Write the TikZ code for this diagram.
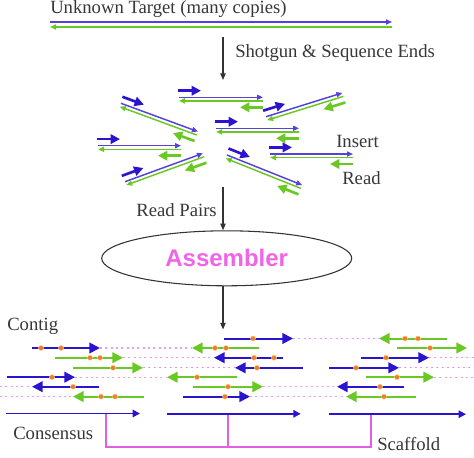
\documentclass[tikz,border=0pt]{standalone}
\usepackage{fontspec}
\setmainfont{Liberation Serif}
\newfontfamily\asmfont{Liberation Sans}
\usetikzlibrary{arrows.meta,shapes.geometric}
\definecolor{cblue}{RGB}{42,20,205}
\definecolor{iblue}{RGB}{85,65,220}
\definecolor{cgreen}{RGB}{105,200,35}
\definecolor{dotor}{RGB}{240,120,60}
\definecolor{dotrim}{RGB}{250,220,90}
\definecolor{pinkd}{RGB}{240,150,240}
\definecolor{scafc}{RGB}{225,95,225}
\definecolor{asmc}{RGB}{240,100,230}
\definecolor{txtc}{RGB}{55,55,55}
\newcommand\rpair[4]{%
\begin{scope}[shift={(#1,#2)},rotate=#3]
\draw[readb] (-1,-6.6) -- (22,-6.6);
\draw[insb] (0,0) -- (#4,0);
\draw[insg] (#4,3.6) -- (0,3.6);
\draw[readg] (#4,10) -- ({#4-23},10);
\end{scope}}
\newcommand\spot[2]{\fill[dotor,draw=dotrim,line width=0.3pt] (#1,#2) circle (1.9pt);}
\begin{document}
\begin{tikzpicture}[x=0.75pt,y=-0.75pt,
  lbl/.style={font=\fontsize{14}{16}\selectfont, text=txtc, inner sep=0},
  insb/.style={draw=iblue, line width=1.1pt, -{Triangle[length=4.5pt,width=3.8pt]}},
  insg/.style={draw=cgreen, line width=1.1pt, -{Triangle[length=4.5pt,width=3.8pt]}},
  readb/.style={draw=cblue, line width=2pt, -{Triangle[length=7pt,width=7pt]}},
  readg/.style={draw=cgreen, line width=2pt, -{Triangle[length=7pt,width=7pt]}},
  ctb/.style={draw=cblue, line width=1.5pt, -{Triangle[length=8pt,width=8pt]}},
  ctg/.style={draw=cgreen, line width=1.5pt, -{Triangle[length=8pt,width=8pt]}},
  consb/.style={draw=cblue, line width=1.4pt, -{Triangle[length=5.5pt,width=5.5pt]}},
  mate/.style={draw=pinkd, line width=1pt, dash pattern=on 1.5pt off 2.5pt},
  scf/.style={draw=scafc, line width=1.2pt},
  flow/.style={draw=black!80, line width=0.9pt, -{Triangle[length=5pt,width=4pt]}}]
\useasboundingbox (0,0) rectangle (474,457);

% target
\node[lbl, anchor=west] (target) at (50,9) {Unknown Target (many copies)};
\coordinate (tb1) at (50,22); \coordinate (tb2) at (392,22);
\coordinate (tg1) at (392,27); \coordinate (tg2) at (50,27);
\draw[insb, line width=1.4pt] (tb1) -- (tb2);
\draw[insg, line width=1.4pt] (tg1) -- (tg2);

% shotgun arrow
\coordinate (s1) at (223,37); \coordinate (s2) at (223,80);
\draw[flow] (s1) -- (s2);
\node[lbl, anchor=west] (shot) at (235,53) {Shotgun \& Sequence Ends};

% read pairs
\rpair{179}{97.3}{0}{84}
\rpair{266}{116.7}{17.3}{80}
\rpair{121}{103.3}{-20.2}{82}
\rpair{98}{145.7}{0}{83}
\rpair{125}{181.7}{20}{83}
\rpair{216}{128.3}{0}{83}
\rpair{270}{154}{0}{83}
\rpair{227}{155}{-21.8}{81}
\node[lbl, anchor=west] (insert) at (336,141.7) {Insert};
\node[lbl, anchor=west] (read) at (342,177.7) {Read};

% assembler
\node[draw=black!80, line width=0.8pt, ellipse, minimum width=187.5pt, minimum height=41.25pt, inner sep=0] (asm) at (226.7,258.3) {};
\node[font=\asmfont\bfseries\fontsize{18}{20}\selectfont, text=asmc, inner sep=0] (asmtxt) at (asm.center) {Assembler};
\coordinate (r1) at (223,187);
\draw[flow] (r1) -- (asm.north -| r1);
\node[lbl, anchor=east] (rp) at (217,210) {Read Pairs};
\coordinate (c1) at (223,329.5);
\draw[flow] (asm.south -| c1) -- (c1);
\node[lbl, anchor=west] (contig) at (7,326) {Contig};

% mate dotted lines
\draw[mate] (293,338.5) -- (379,338.5);
\draw[mate] (100,348) -- (192,348);
\draw[mate] (123,357.7) -- (214,357.7); \draw[mate] (429,357.7) -- (474,357.7);
\draw[mate] (143,367.8) -- (235,367.8); \draw[mate] (399,367.8) -- (474,367.8);
\draw[mate] (75,377.2) -- (167,377.2); \draw[mate] (434,377.2) -- (474,377.2);
\draw[mate] (0,386.7) -- (32,386.7); \draw[mate] (263,386.7) -- (337,386.7);
\draw[mate] (0,396.6) -- (73,396.6); \draw[mate] (250,396.6) -- (346,396.6);

% row 1
\draw[ctb] (224,338.5) -- (293,338.5); \spot{253}{338.5}
\draw[ctg] (447,338.5) -- (379,338.5); \spot{405}{338.5}\spot{418}{338.5}
% row 2
\draw[ctb] (32,348) -- (100,348); \spot{41}{348}\spot{61}{348}
\draw[ctg] (259,348) -- (192,348); \spot{215}{348}\spot{226}{348}
\draw[ctg] (397,348) -- (467,348); \spot{430}{348}
% row 3
\draw[ctg] (55,357.7) -- (123,357.7); \spot{90}{357.7}\spot{100}{357.7}
\draw[ctb] (283,357.7) -- (214,357.7); \spot{254}{357.7}\spot{274}{357.7}
\draw[ctb] (361,357.7) -- (429,357.7); \spot{386}{357.7}
% row 4
\draw[ctg] (73,367.8) -- (143,367.8); \spot{113}{367.8}
\draw[ctb] (303,367.8) -- (235,367.8); \spot{257}{367.8}
\draw[ctb] (329,367.8) -- (399,367.8); \spot{356}{367.8}
% row 5
\draw[ctb] (7,377.2) -- (75,377.2); \spot{52}{377.2}
\draw[ctg] (237,377.2) -- (167,377.2); \spot{197}{377.2}
\draw[ctg] (366,377.2) -- (434,377.2); \spot{397}{377.2}
% row 6
\draw[ctb] (99,386.7) -- (32,386.7); \spot{73}{386.7}
\draw[ctg] (193,386.7) -- (263,386.7); \spot{228}{386.7}
\draw[ctb] (404,386.7) -- (337,386.7); \spot{380}{386.7}
% row 7
\draw[ctg] (144,396.6) -- (73,396.6); \spot{101}{396.6}\spot{115}{396.6}
\draw[ctb] (183,396.6) -- (250,396.6); \spot{225}{396.6}
\draw[ctg] (416,396.6) -- (346,396.6); \spot{384}{396.6}

% consensus
\coordinate (k1a) at (6,413.5); \coordinate (k1b) at (140,413.5);
\coordinate (k2a) at (166.7,413.8); \coordinate (k2b) at (300.7,413.8);
\coordinate (k3a) at (329,414.2); \coordinate (k3b) at (466,414.2);
\draw[scf] (106,413.5) -- (106,446.7) -- (370.7,446.7) -- (370.7,414.2);
\draw[scf] (227.7,413.8) -- (227.7,446.7);
\draw[consb] (k1a) -- (k1b);
\draw[consb] (k2a) -- (k2b);
\draw[consb] (k3a) -- (k3b);
\node[lbl, anchor=west] (cons) at (13,433.3) {Consensus};
\node[lbl, anchor=west] (scaf) at (377,444) {Scaffold};
\end{tikzpicture}
\end{document}
